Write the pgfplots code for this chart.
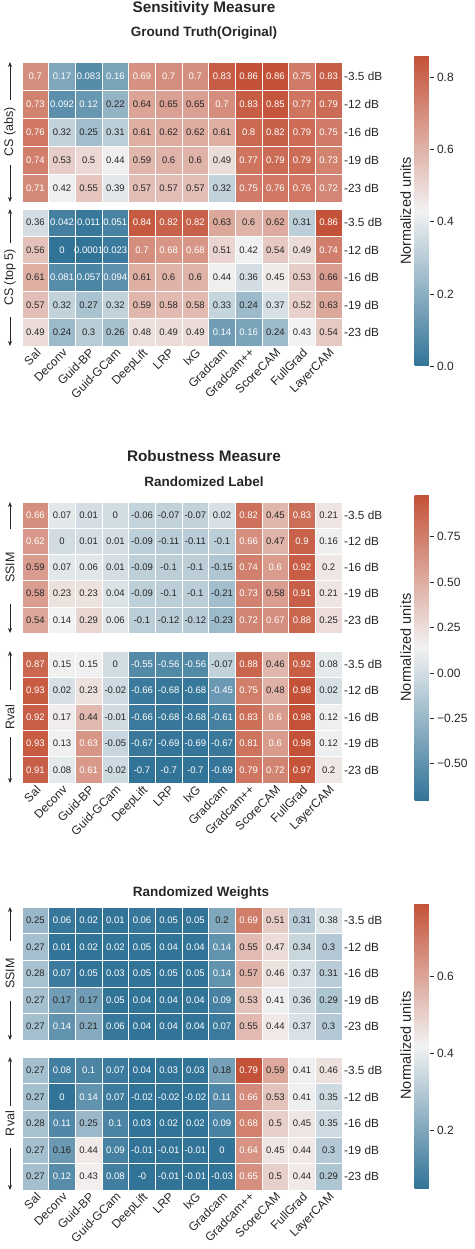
\documentclass[border=0pt]{standalone}
\usepackage{pgfplots}
\pgfplotsset{compat=1.18}
\usepackage{pgfplotstable}
\usepackage{fontspec}
\setmainfont{Liberation Sans}
\usetikzlibrary{arrows.meta}
\definecolor{txt}{HTML}{262626}
\pgfplotsset{colormap={div}{rgb255=(50,116,152) rgb255=(242,242,242) rgb255=(196,82,56)}}
\newcommand\fs[1]{\fontsize{#1}{#1}\selectfont}
\pgfdeclareplotmark{cell}{\pgfpathrectanglecorners{\pgfpoint{-\cellw}{-\cellh}}{\pgfpoint{\cellw}{\cellh}}\pgfusepathqfillstroke}
\def\cellw{13.333pt}
\def\cellh{14pt}
\def\hi{0.67}\def\lo{0.18}
\newcommand\celltext{\pgfmathparse{(\val>=\hi)||(\val<=\lo)}\ifdim\pgfmathresult pt>0.5pt\color{white}\fi\pgfplotspointmeta}

% ---- data: 5 rows (-3.5,-12,-16,-19,-23 dB) x 12 methods ----
\pgfplotstableread[row sep=\\]{v\\
0.7\\ 0.17\\ 0.083\\ 0.16\\ 0.69\\ 0.7\\ 0.7\\ 0.83\\ 0.86\\ 0.86\\ 0.75\\ 0.83\\
0.73\\ 0.092\\ 0.12\\ 0.22\\ 0.64\\ 0.65\\ 0.65\\ 0.7\\ 0.83\\ 0.85\\ 0.77\\ 0.79\\
0.76\\ 0.32\\ 0.25\\ 0.31\\ 0.61\\ 0.62\\ 0.62\\ 0.61\\ 0.8\\ 0.82\\ 0.79\\ 0.75\\
0.74\\ 0.53\\ 0.5\\ 0.44\\ 0.59\\ 0.6\\ 0.6\\ 0.49\\ 0.77\\ 0.79\\ 0.79\\ 0.73\\
0.71\\ 0.42\\ 0.55\\ 0.39\\ 0.57\\ 0.57\\ 0.57\\ 0.32\\ 0.75\\ 0.76\\ 0.76\\ 0.72\\
}\tA
\pgfplotstableread[row sep=\\]{v\\
0.36\\ 0.042\\ 0.011\\ 0.051\\ 0.84\\ 0.82\\ 0.82\\ 0.63\\ 0.6\\ 0.62\\ 0.31\\ 0.86\\
0.56\\ 0\\ 0.0001\\ 0.023\\ 0.7\\ 0.68\\ 0.68\\ 0.51\\ 0.42\\ 0.54\\ 0.49\\ 0.74\\
0.61\\ 0.081\\ 0.057\\ 0.094\\ 0.61\\ 0.6\\ 0.6\\ 0.44\\ 0.36\\ 0.45\\ 0.53\\ 0.66\\
0.57\\ 0.32\\ 0.27\\ 0.32\\ 0.59\\ 0.58\\ 0.58\\ 0.33\\ 0.24\\ 0.37\\ 0.52\\ 0.63\\
0.49\\ 0.24\\ 0.3\\ 0.26\\ 0.48\\ 0.49\\ 0.49\\ 0.14\\ 0.16\\ 0.24\\ 0.43\\ 0.54\\
}\tB
\pgfplotstableread[row sep=\\]{v\\
0.66\\ 0.07\\ 0.01\\ 0\\ -0.06\\ -0.07\\ -0.07\\ 0.02\\ 0.82\\ 0.45\\ 0.83\\ 0.21\\
0.62\\ 0\\ 0.01\\ 0.01\\ -0.09\\ -0.11\\ -0.11\\ -0.1\\ 0.66\\ 0.47\\ 0.9\\ 0.16\\
0.59\\ 0.07\\ 0.06\\ 0.01\\ -0.09\\ -0.1\\ -0.1\\ -0.15\\ 0.74\\ 0.6\\ 0.92\\ 0.2\\
0.58\\ 0.23\\ 0.23\\ 0.04\\ -0.09\\ -0.1\\ -0.1\\ -0.21\\ 0.73\\ 0.58\\ 0.91\\ 0.21\\
0.54\\ 0.14\\ 0.29\\ 0.06\\ -0.1\\ -0.12\\ -0.12\\ -0.23\\ 0.72\\ 0.67\\ 0.88\\ 0.25\\
}\tC
\pgfplotstableread[row sep=\\]{v\\
0.87\\ 0.15\\ 0.15\\ 0\\ -0.55\\ -0.56\\ -0.56\\ -0.07\\ 0.88\\ 0.46\\ 0.92\\ 0.08\\
0.93\\ 0.02\\ 0.23\\ -0.02\\ -0.66\\ -0.68\\ -0.68\\ -0.45\\ 0.75\\ 0.48\\ 0.98\\ 0.02\\
0.92\\ 0.17\\ 0.44\\ -0.01\\ -0.66\\ -0.68\\ -0.68\\ -0.61\\ 0.83\\ 0.6\\ 0.98\\ 0.12\\
0.93\\ 0.13\\ 0.63\\ -0.05\\ -0.67\\ -0.69\\ -0.69\\ -0.67\\ 0.81\\ 0.6\\ 0.98\\ 0.12\\
0.91\\ 0.08\\ 0.61\\ -0.02\\ -0.7\\ -0.7\\ -0.7\\ -0.69\\ 0.79\\ 0.72\\ 0.97\\ 0.2\\
}\tD
\pgfplotstableread[row sep=\\]{v\\
0.25\\ 0.06\\ 0.02\\ 0.01\\ 0.06\\ 0.05\\ 0.05\\ 0.2\\ 0.69\\ 0.51\\ 0.31\\ 0.38\\
0.27\\ 0.01\\ 0.02\\ 0.02\\ 0.05\\ 0.04\\ 0.04\\ 0.14\\ 0.55\\ 0.47\\ 0.34\\ 0.3\\
0.28\\ 0.07\\ 0.05\\ 0.03\\ 0.05\\ 0.05\\ 0.05\\ 0.14\\ 0.57\\ 0.46\\ 0.37\\ 0.31\\
0.27\\ 0.17\\ 0.17\\ 0.05\\ 0.04\\ 0.04\\ 0.04\\ 0.09\\ 0.53\\ 0.41\\ 0.36\\ 0.29\\
0.27\\ 0.14\\ 0.21\\ 0.06\\ 0.04\\ 0.04\\ 0.04\\ 0.07\\ 0.55\\ 0.44\\ 0.37\\ 0.3\\
}\tE
\pgfplotstableread[row sep=\\]{v\\
0.27\\ 0.08\\ 0.1\\ 0.07\\ 0.04\\ 0.03\\ 0.03\\ 0.18\\ 0.79\\ 0.59\\ 0.41\\ 0.46\\
0.27\\ 0\\ 0.14\\ 0.07\\ -0.02\\ -0.02\\ -0.02\\ 0.11\\ 0.66\\ 0.53\\ 0.41\\ 0.35\\
0.28\\ 0.11\\ 0.25\\ 0.1\\ 0.03\\ 0.02\\ 0.02\\ 0.09\\ 0.68\\ 0.5\\ 0.45\\ 0.35\\
0.27\\ 0.16\\ 0.44\\ 0.09\\ -0.01\\ -0.01\\ -0.01\\ 0\\ 0.64\\ 0.45\\ 0.44\\ 0.3\\
0.27\\ 0.12\\ 0.43\\ 0.08\\ -0\\ -0.01\\ -0.01\\ -0.03\\ 0.65\\ 0.5\\ 0.44\\ 0.29\\
}\tF

\pgfplotsset{
 hmap/.style={
   scale only axis, width=320pt, enlargelimits=false, anchor=north west, clip=false,
   xmin=-0.5, xmax=11.5, ymin=-0.5, ymax=4.5, y dir=reverse,
   axis line style={draw=none}, major tick length=0pt, tick style={draw=none},
   colormap name=div,
   ytick={0,1,2,3,4}, yticklabels={-3.5 dB,-12 dB,-16 dB,-19 dB,-23 dB},
   yticklabel pos=right,
   yticklabel style={font=\fs{11.8}, text=txt, inner sep=1pt, xshift=1pt},
   xtick={0,...,11},
   xticklabels={Sal,Deconv,Guid-BP,Guid-GCam,DeepLift,LRP,IxG,Gradcam,Gradcam++,ScoreCAM,FullGrad,LayerCAM},
   xticklabel style={rotate=45, anchor=north east, font=\fs{12}, text=txt, inner sep=1pt},
 },
 notx/.style={xtick=\empty},
 cbar/.style n args={4}{
   colorbar,
   colorbar style={at={(parent axis.north east)}, anchor=north west,
     xshift=64pt, yshift=#1,
     scale only axis, width=15pt, height=#2,
     ytick={#3}, yticklabels={#4}, ytick pos=right, yticklabel pos=right,
     tick align=outside, major tick length=4pt,
     tick style={draw=txt, line width=0.8pt}, axis line style={draw=none},
     yticklabel style={font=\fs{12}, text=txt},
     ylabel={Normalized units},
     every axis y label/.style={at={(axis description cs:0,0.5)}, anchor=south, rotate=90, font=\fs{14.5}, text=txt}},
 },
}
\newcommand\heat[1]{%
 \addplot[scatter, only marks, mark=cell, point meta=explicit,
   scatter/use mapped color={draw=white, fill=mapped color}, line width=0.6pt]
   table[x index=0, y index=0, x expr={mod(\coordindex,12)}, y expr={floor(\coordindex/12)}, meta=v]{#1};
 \addplot[draw=none, mark=none, point meta=explicit symbolic,
   visualization depends on={\thisrow{v} \as \val},
   nodes near coords={\celltext},
   every node near coord/.append style={anchor=center, font=\fs{9.5}, text=txt, inner sep=0pt}]
   table[x index=0, y index=0, x expr={mod(\coordindex,12)}, y expr={floor(\coordindex/12)}, meta=v]{#1};
}
\newcommand\side[3]{%
 \node[rotate=90, font=\fs{12.5}, text=txt, inner sep=0pt] at ([xshift=-12pt]axis description cs:0,0.5) {#1};
 \draw[txt, line width=0.9pt, -{Stealth[length=5pt,width=4pt]}] ([xshift=-12pt,yshift=#2]axis description cs:0,0.5) -- ([xshift=-12pt]axis description cs:0,1);
 \draw[txt, line width=0.9pt, -{Stealth[length=5pt,width=4pt]}] ([xshift=-12pt,yshift=-#3]axis description cs:0,0.5) -- ([xshift=-12pt]axis description cs:0,0);
}

\begin{document}
\begin{tikzpicture}
\useasboundingbox (0,0) rectangle (474pt,-1249pt);
% titles
\node[anchor=base, font=\bfseries\fs{15.3}, text=txt] at (204pt,-13pt) {Sensitivity Measure};
\node[anchor=base, font=\bfseries\fs{13.5}, text=txt] at (204pt,-37pt) {Ground Truth(Original)};
\node[anchor=base, font=\bfseries\fs{15.3}, text=txt] at (204pt,-461pt) {Robustness Measure};
\node[anchor=base, font=\bfseries\fs{13.5}, text=txt] at (204pt,-486pt) {Randomized Label};
\node[anchor=base, font=\bfseries\fs{13.5}, text=txt] at (201pt,-896pt) {Randomized Weights};

% ---- Panel 1 ----
\def\hi{0.67}\def\lo{0.18}
\def\cellh{14pt}
\begin{axis}[hmap, notx, at={(22pt,-62pt)}, height=140pt, point meta min=0, point meta max=0.86,
  cbar={6pt}{310pt}{0,0.2,0.4,0.6,0.8}{0.0,0.2,0.4,0.6,0.8}]
\heat{\tA}
\side{CS (abs)}{32pt}{33pt}
\end{axis}
\def\cellh{13.7pt}
\begin{axis}[hmap, at={(22pt,-209pt)}, height=137pt, point meta min=0, point meta max=0.86]
\heat{\tB}
\side{CS (top 5)}{34pt}{40pt}
\end{axis}

% ---- Panel 2 ----
\def\hi{0.595}\def\lo{-0.3}
\def\cellh{13.1pt}
\begin{axis}[hmap, notx, at={(22pt,-502pt)}, height=131pt, point meta min=-0.70, point meta max=0.98,
  cbar={7pt}{305pt}{-0.5,-0.25,0,0.25,0.5,0.75}{−0.50,−0.25,0.00,0.25,0.50,0.75}]
\heat{\tC}
\side{SSIM}{39pt}{36pt}
\end{axis}
\def\cellh{13.2pt}
\begin{axis}[hmap, at={(22pt,-651pt)}, height=132pt, point meta min=-0.70, point meta max=0.98]
\heat{\tD}
\side{Rval}{27pt}{20pt}
\end{axis}

% ---- Panel 3 ----
\def\hi{0.6}\def\lo{0.145}
\def\cellh{13.3pt}
\begin{axis}[hmap, notx, at={(22pt,-907pt)}, height=133pt, point meta min=0.05, point meta max=0.79,
  cbar={4pt}{285pt}{0.2,0.4,0.6}{0.2,0.4,0.6}]
\heat{\tE}
\side{SSIM}{33pt}{27pt}
\end{axis}
\begin{axis}[hmap, at={(22pt,-1057pt)}, height=133pt, point meta min=0.05, point meta max=0.79]
\heat{\tF}
\side{Rval}{18pt}{24pt}
\end{axis}
\end{tikzpicture}
\end{document}
